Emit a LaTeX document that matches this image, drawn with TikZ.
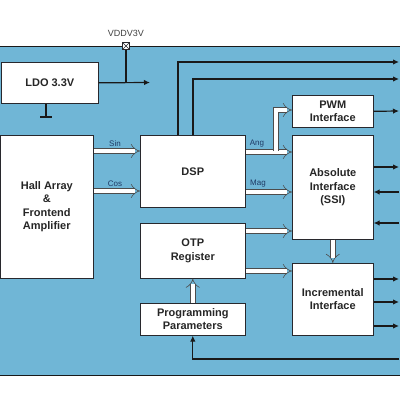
\documentclass[tikz,border=0pt]{standalone}
\usepackage{fontspec}
\setmainfont{Liberation Sans}
\usetikzlibrary{arrows.meta,calc}
\definecolor{bg}{RGB}{112,182,214}
\definecolor{lbl}{RGB}{30,58,100}
\definecolor{edge}{RGB}{40,40,45}
\begin{document}
\begin{tikzpicture}[x=1pt,y=-1pt,
  blk/.style={draw=edge, fill=white, line width=0.6pt, text=black!85,
    font=\bfseries\fontsize{11}{13.3}\selectfont, align=center, inner sep=0pt, anchor=north west},
  sig/.style={draw=black!90, line width=1.2pt, -{Latex[length=6pt,width=5.5pt]}},
  wire/.style={draw=black!90, line width=1.2pt},
  hol/.style={double=white, double distance=4.4pt, draw=black!70, line width=0.6pt, -{Implies}},
  lab/.style={font=\fontsize{8}{9}\selectfont, text=lbl, inner sep=0pt}]

\useasboundingbox (0,0) rectangle (400,400);
\fill[white] (0,0) rectangle (400,400);
\fill[bg] (0,46) rectangle (400,375);
\draw[line width=1pt, black!90] (0,46) -- (400,46);
\draw[line width=1pt, black!90] (0,375) -- (400,375);

% blocks
\node[blk, minimum width=97pt, minimum height=41pt] (ldo) at (1,62) {LDO 3.3V};
\node[blk, minimum width=93pt, minimum height=143pt] (hall) at (0,135) {Hall Array\\\&\\Frontend\\Amplifier};
\node[blk, minimum width=105pt, minimum height=72pt] (dsp) at (140,135) {DSP};
\node[blk, minimum width=105pt, minimum height=55pt] (otp) at (140,223) {OTP\\Register};
\node[blk, minimum width=105pt, minimum height=32pt] (pp) at (140,303) {Programming\\Parameters};
\node[blk, minimum width=81pt, minimum height=32pt] (pwm) at (292,95) {PWM\\Interface};
\node[blk, minimum width=81pt, minimum height=104pt] (abs) at (292,135) {Absolute\\Interface\\(SSI)};
\node[blk, minimum width=81pt, minimum height=72pt] (inc) at (292,263) {Incremental\\Interface};

% supply pad
\node[draw=edge, fill=white, line width=0.5pt, minimum size=7pt, inner sep=0pt] (vdd) at (126,46) {};
\draw[line width=0.5pt, edge] (vdd.north west) -- (vdd.south east) (vdd.north east) -- (vdd.south west);
\node[font=\fontsize{9}{10}\selectfont, text=black!75, inner sep=0pt] (vddlab) at (126,33) {VDDV3V};
\coordinate (ldoout) at (150,82.5);
\draw[sig] (ldo.east) -- (ldoout);
\draw[wire] (vdd.south) -- (vdd |- ldo.east);
% ground
\coordinate (gnd) at (46,117);
\draw[wire] (ldo.south -| gnd) -- (gnd);
\draw[line width=2.2pt, black!90] ($(gnd)+(-6,0)$) -- ($(gnd)+(6,0)$);

% free ends at right edge
\coordinate (o1) at (399,62);
\coordinate (o2) at (399,79);
\coordinate (o3) at (399,111);
\coordinate (o4) at (399,167);
\coordinate (i1) at (399,192);
\coordinate (i2) at (399,223);
\coordinate (o5) at (399,279);
\coordinate (o6) at (399,302);
\coordinate (o7) at (399,326);
\coordinate (fb) at (399,359);

% DSP to top outputs
\draw[sig] (dsp.north -| 178,0) |- (o1);
\draw[sig] (dsp.north -| 193,0) |- (o2);
\draw[sig] (pwm.east) -- (o3);
\draw[sig] (abs.east |- o4) -- (o4);
\draw[sig] (i1) -- (abs.east |- i1);
\draw[sig] (i2) -- (abs.east |- i2);
\draw[sig] (inc.east |- o5) -- (o5);
\draw[sig] (inc.east |- o6) -- (o6);
\draw[sig] (inc.east |- o7) -- (o7);
\draw[sig] (fb) -| (pp.south);

% hollow buses
\draw[hol] (hall.east |- 0,151) -- (dsp.west |- 0,151);
\draw[hol] (hall.east |- 0,191) -- (dsp.west |- 0,191);
\draw[hol] (dsp.east |- 0,152) -- (abs.west |- 0,152);
\draw[hol] (276,151) |- (pwm.west |- 0,110);
\draw[hol] (dsp.east |- 0,192) -- (abs.west |- 0,192);
\draw[hol] (otp.east |- 0,231) -- (abs.west |- 0,231);
\draw[hol] (otp.east |- 0,271) -- (inc.west |- 0,271);
\draw[hol] (abs.south) -- (inc.north);
\draw[hol] (pp.north) -- (otp.south);

% labels
\node[lab] (lsin) at (115,144) {Sin};
\node[lab] (lcos) at (115,184) {Cos};
\node[lab] (lang) at (257,144) {Ang};
\node[lab] (lmag) at (258,184) {Mag};
\end{tikzpicture}
\end{document}
